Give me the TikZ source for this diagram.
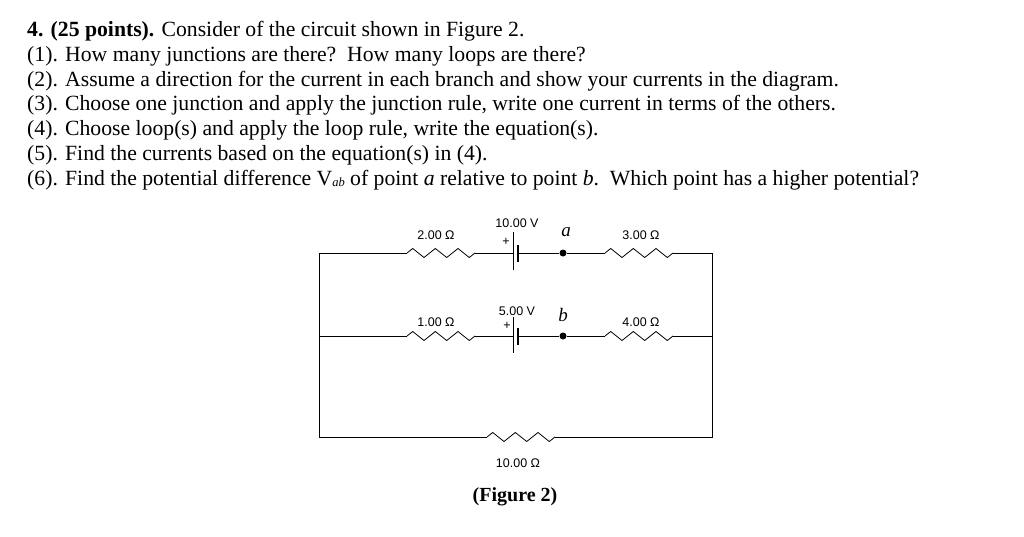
\documentclass[tikz,border=0pt]{standalone}
\usepackage{fontspec}
\setmainfont{Liberation Serif}
\newfontfamily\cfont{Liberation Sans}
\begin{document}
\begin{tikzpicture}[x=1pt,y=-1pt,
  q/.style={anchor=base west,inner sep=0,font=\fontsize{21.7}{24}\selectfont},
  lab/.style={inner sep=0,font=\cfont\fontsize{12.5}{14}\selectfont},
  var/.style={inner sep=0,font=\itshape\fontsize{19}{21}\selectfont},
  wire/.style={line width=0.8pt},
  dot/.style={circle,fill,inner sep=0,minimum size=7pt},
  res/.pic={\draw[wire,line join=round] (0,0) -- (5.7,-4.5) -- (17,4.5) -- (28.3,-4.5) -- (39.7,4.5) -- (51,-4.5) -- (62.3,4.5) -- (68,0);}]
\useasboundingbox (0,0) rectangle (1024,536);
\node[q] (l1) at (27,36.8) {\textbf{4. (25 points).} Consider of the circuit shown in Figure 2.};
\node[q] (l2) at (27,61.5) {(1). How many junctions are there?\ \ How many loops are there?};
\node[q] (l3) at (27,86.2) {(2). Assume a direction for the current in each branch and show your currents in the diagram.};
\node[q] (l4) at (27,110.9) {(3). Choose one junction and apply the junction rule, write one current in terms of the others.};
\node[q] (l5) at (27,135.6) {(4). Choose loop(s) and apply the loop rule, write the equation(s).};
\node[q] (l6) at (27,160.3) {(5). Find the currents based on the equation(s) in (4).};
\node[q] (l7) at (27,185) {(6). Find the potential difference V\raisebox{-1.5pt}{\fontsize{12.5}{14}\selectfont\itshape ab} of point \textit{a} relative to point \textit{b}.\ \ Which point has a higher potential?};
% coordinates
\coordinate (TL) at (319,253); \coordinate (TR) at (712,253);
\coordinate (ML) at (319,336); \coordinate (MR) at (712,336);
\coordinate (BL) at (319,437); \coordinate (BR) at (712,437);
% top branch
\pic at (407,253) {res}; \coordinate (r1a) at (407,253); \coordinate (r1b) at (475,253);
\coordinate (b1p) at (513,253); \coordinate (b1n) at (518,253);
\draw[wire] (513,232) -- (513,270);
\draw[line width=1.4pt] (518,245) -- (518,262);
\node[dot] (a) at (563,253) {};
\pic at (605,253) {res}; \coordinate (r2a) at (605,253); \coordinate (r2b) at (673,253);
\draw[wire] (r1a) -- (TL) -- (BL) -- (487,437);
\draw[wire] (r1b) -- (b1p);
\draw[wire] (b1n) -- (a) -- (r2a);
\draw[wire] (r2b) -- (TR) -- (BR) -- (555,437);
% middle branch
\pic at (407,336) {res}; \coordinate (r3a) at (407,336); \coordinate (r3b) at (475,336);
\coordinate (b2p) at (513,336); \coordinate (b2n) at (518,336);
\draw[wire] (513,317) -- (513,353);
\draw[line width=1.4pt] (518,328) -- (518,345);
\node[dot] (b) at (563,336) {};
\pic at (605,336) {res}; \coordinate (r4a) at (605,336); \coordinate (r4b) at (673,336);
\draw[wire] (ML) -- (r3a); \draw[wire] (r3b) -- (b2p);
\draw[wire] (b2n) -- (b) -- (r4a); \draw[wire] (r4b) -- (MR);
% bottom
\pic at (487,437) {res};
% labels
\node[lab] (t1) at (436,235) {2.00 Ω};
\node[lab] (t2) at (517,223) {10.00 V};
\node[lab] (p1) at (506,242) {+};
\node[var] (ta) at (566,232) {a};
\node[lab] (t3) at (641,235) {3.00 Ω};
\node[lab] (t4) at (436,322) {1.00 Ω};
\node[lab] (t5) at (517,311) {5.00 V};
\node[lab] (p2) at (507,326) {+};
\node[var] (tb) at (563,315) {b};
\node[lab] (t6) at (641,322) {4.00 Ω};
\node[lab] (t7) at (518,463) {10.00 Ω};
\node[inner sep=0,font=\bfseries\fontsize{20}{22}\selectfont] (fig) at (515,497) {(Figure 2)};
\end{tikzpicture}
\end{document}
